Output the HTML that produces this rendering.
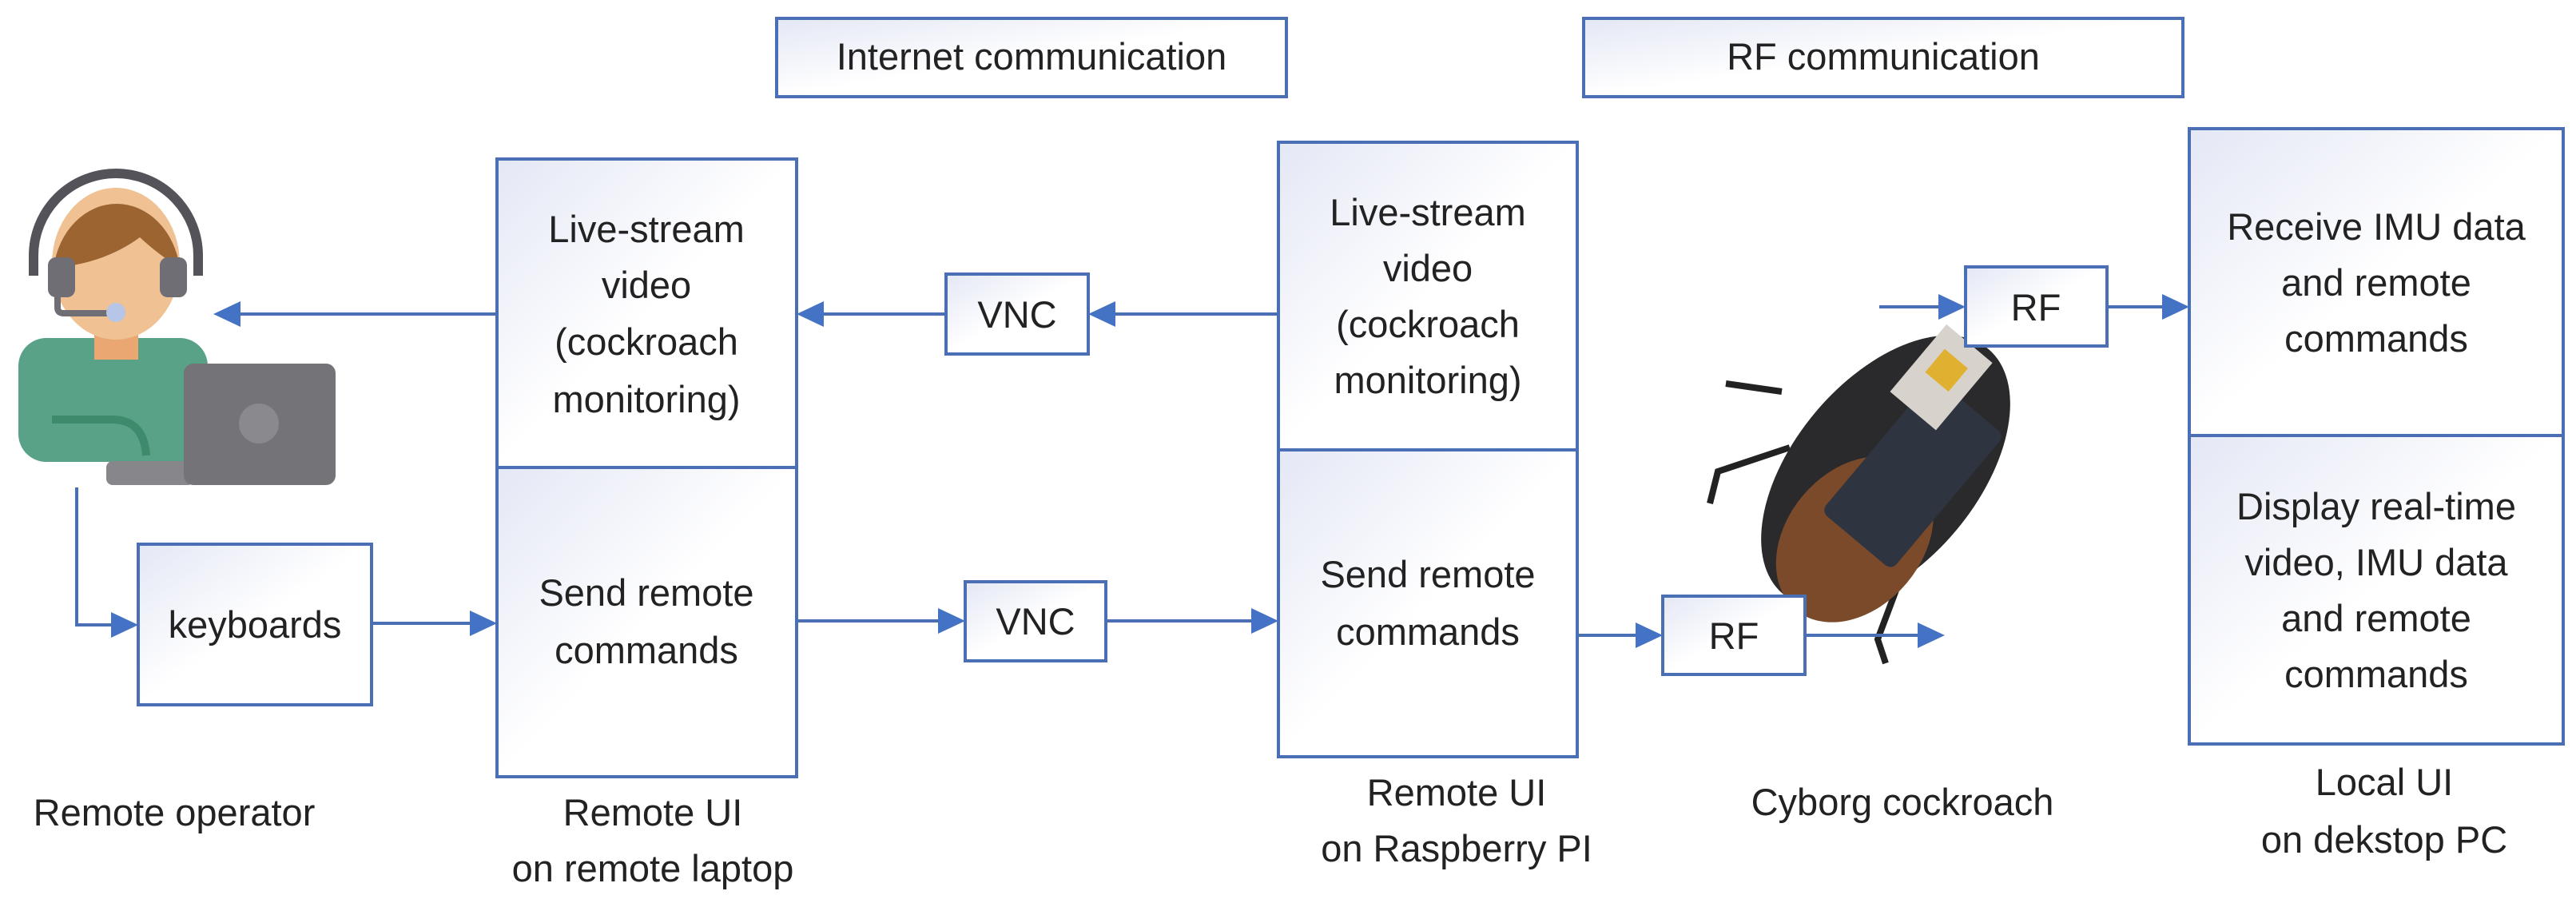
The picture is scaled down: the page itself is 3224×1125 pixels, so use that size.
<!DOCTYPE html>
<html><head><meta charset="utf-8"><style>
html,body{margin:0;padding:0;background:#fff;}
svg{display:block}
text{font-family:"Liberation Sans",sans-serif;fill:#222;font-size:47px;text-anchor:middle}
</style></head><body>
<svg width="3224" height="1125" viewBox="0 0 3224 1125" xmlns="http://www.w3.org/2000/svg">
<defs>
<linearGradient id="g" x1="0" y1="0" x2="1" y2="1">
<stop offset="0" stop-color="#e4e7f5"/><stop offset="0.5" stop-color="#ffffff"/><stop offset="1" stop-color="#ffffff"/>
</linearGradient>
</defs>
<!-- cockroach -->
<g stroke="#222" stroke-width="8" fill="none">
<path d="M2240 560 L2150 590 L2140 630"/>
<path d="M2270 640 L2240 720 L2290 770"/>
<path d="M2380 720 L2350 800 L2360 830"/>
<path d="M2230 490 L2160 480"/>
</g>
<g transform="rotate(40 2360 590)">
<ellipse cx="2360" cy="590" rx="115" ry="200" fill="#2a2a2c"/>
<ellipse cx="2385" cy="680" rx="85" ry="115" fill="#7a4a2a"/>
<rect x="2330" y="460" width="115" height="220" rx="10" fill="#2e3440"/>
<rect x="2300" y="400" width="75" height="110" fill="#d8d2cc"/>
<rect x="2318" y="425" width="38" height="38" fill="#e0b030"/>
</g>
<g stroke="#4a6fb5" stroke-width="4" fill="url(#g)">
<rect x="972" y="23" width="638" height="98"/>
<rect x="1982" y="23" width="750" height="98"/>
<rect x="622" y="199" width="375" height="386"/>
<rect x="622" y="585" width="375" height="387"/>
<rect x="173" y="681" width="292" height="201"/>
<rect x="1184" y="343" width="178" height="100"/>
<rect x="1208" y="728" width="176" height="99"/>
<rect x="1600" y="178" width="374" height="385"/>
<rect x="1600" y="563" width="374" height="384"/>
<rect x="2460" y="334" width="177" height="99"/>
<rect x="2081" y="746" width="178" height="98"/>
<rect x="2740" y="161" width="468" height="384"/>
<rect x="2740" y="545" width="468" height="386"/>
</g>
<g stroke="#4a6fb5" stroke-width="4" fill="none">
<path d="M622 393 H300"/>
<path d="M1184 393 H1030"/>
<path d="M1600 393 H1395"/>
<path d="M96 610 V782 H140"/>
<path d="M465 780 H590"/>
<path d="M997 777 H1175"/>
<path d="M1384 777 H1567"/>
<path d="M1974 795 H2048"/>
<path d="M2259 795 H2400"/>
<path d="M2352 384 H2427"/>
<path d="M2637 384 H2706"/>
</g>
<g fill="#4472c4">
<polygon points="267,393 301,377 301,409"/>
<polygon points="997,393 1031,377 1031,409"/>
<polygon points="1362,393 1396,377 1396,409"/>
<polygon points="173,782 139,766 139,798"/>
<polygon points="622,780 588,764 588,796"/>
<polygon points="1208,777 1174,761 1174,793"/>
<polygon points="1600,777 1566,761 1566,793"/>
<polygon points="2081,795 2047,779 2047,811"/>
<polygon points="2434,795 2400,779 2400,811"/>
<polygon points="2460,384 2426,368 2426,400"/>
<polygon points="2740,384 2706,368 2706,400"/>
</g>
<!-- operator icon -->
<g>
<path d="M42 345 V320 A103 103 0 0 1 248 320 V345" fill="none" stroke="#535359" stroke-width="12"/>
<rect x="23" y="423" width="237" height="155" rx="35" fill="#5aa287"/>
<rect x="118" y="400" width="55" height="50" fill="#eaa772"/>
<ellipse cx="145" cy="330" rx="80" ry="95" fill="#efc193"/>
<path d="M67 335 A80 95 0 0 1 225 335 Q200 320 175 297 Q130 330 67 335Z" fill="#9b6431"/>
<rect x="60" y="322" width="34" height="50" rx="10" fill="#6e6e74"/>
<rect x="200" y="322" width="34" height="50" rx="10" fill="#6e6e74"/>
<path d="M72 372 V385 Q72 392 80 392 H140" fill="none" stroke="#6e6e74" stroke-width="8"/>
<circle cx="145" cy="391" r="12" fill="#b7c6e6"/>
<path d="M65 525 H140 Q180 525 183 570" fill="none" stroke="#3e8a6c" stroke-width="10"/>
<rect x="133" y="577" width="110" height="30" rx="8" fill="#86868b"/>
<rect x="230" y="455" width="190" height="152" rx="12" fill="#747478"/>
<circle cx="324" cy="530" r="25" fill="#8a8a8e"/>
</g>
<g>
<text x="1291" y="87">Internet communication</text>
<text x="2357" y="87">RF communication</text>
<text x="809" y="303">Live-stream</text>
<text x="809" y="373">video</text>
<text x="809" y="444">(cockroach</text>
<text x="809" y="516">monitoring)</text>
<text x="809" y="758">Send remote</text>
<text x="809" y="830">commands</text>
<text x="319" y="798">keyboards</text>
<text x="1273" y="410">VNC</text>
<text x="1296" y="794">VNC</text>
<text x="1787" y="282">Live-stream</text>
<text x="1787" y="352">video</text>
<text x="1787" y="422">(cockroach</text>
<text x="1787" y="492">monitoring)</text>
<text x="1787" y="735">Send remote</text>
<text x="1787" y="807">commands</text>
<text x="2548" y="401">RF</text>
<text x="2170" y="812">RF</text>
<text x="2974" y="300">Receive IMU data</text>
<text x="2974" y="370">and remote</text>
<text x="2974" y="440">commands</text>
<text x="2974" y="650">Display real-time</text>
<text x="2974" y="720">video, IMU data</text>
<text x="2974" y="790">and remote</text>
<text x="2974" y="860">commands</text>
<text x="218" y="1033">Remote operator</text>
<text x="817" y="1033">Remote UI</text>
<text x="817" y="1103">on remote laptop</text>
<text x="1823" y="1008">Remote UI</text>
<text x="1823" y="1078">on Raspberry PI</text>
<text x="2381" y="1020">Cyborg cockroach</text>
<text x="2984" y="995">Local UI</text>
<text x="2984" y="1067">on dekstop PC</text>
</g>
</svg>
</body></html>
